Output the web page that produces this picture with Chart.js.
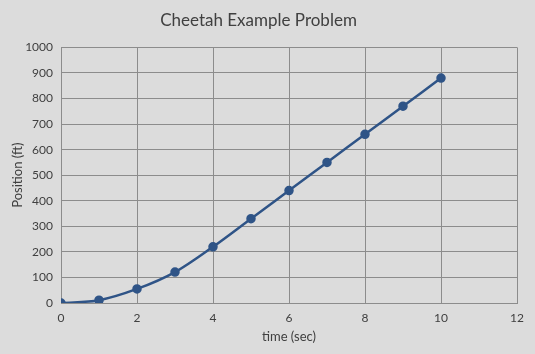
<!DOCTYPE html>
<html lang="en">
<head>
    <meta charset="utf-8" />
    <title>Cheetah Example Problem</title>
    <script src="https://cdn.jsdelivr.net/npm/chart.js"></script>
    <style>
        html, body { margin: 0; padding: 0; background: #dcdcdc; }
        #wrap { width: 535px; height: 354px; position: relative; }
    </style>
</head>
<body>
    <div id="wrap"><canvas id="chart" width="535" height="354"></canvas></div>
    <script>
        // time (sec) and position (ft)
        const times = [0, 1, 2, 3, 4, 5, 6, 7, 8, 9, 10];
        const positions = [0, 11, 55, 121, 220, 330, 440, 550, 660, 770, 880];
        const xTicks = [0, 2, 4, 6, 8, 10, 12];

        const points = times.map((t, i) => ({ x: t, y: positions[i] }));
        const font = 'Lato, "Open Sans", sans-serif';

        new Chart(document.getElementById('chart'), {
            type: 'line',
            data: {
                datasets: [{
                    label: 'Position',
                    data: points,
                    borderColor: '#2f5487',
                    backgroundColor: '#2f5487',
                    borderWidth: 2.5,
                    pointRadius: 3.5,
                    pointHoverRadius: 3.5,
                    tension: 0.4,
                    cubicInterpolationMode: 'monotone',
                    fill: false
                }]
            },
            options: {
                responsive: false,
                animation: false,
                layout: { padding: { left: 0, right: 18, top: 0, bottom: 0 } },
                plugins: {
                    legend: { display: false },
                    tooltip: { enabled: false },
                    title: {
                        display: true,
                        text: 'Cheetah Example Problem',
                        color: '#404040',
                        font: { family: font, size: 17, weight: 'normal' },
                        padding: { top: 10, bottom: 17 }
                    }
                },
                scales: {
                    x: {
                        type: 'linear',
                        min: 0,
                        max: 12,
                        afterBuildTicks: s => { s.ticks = xTicks.map(v => ({ value: v })); },
                        afterFit: s => { s.height = 51; },
                        grid: { color: '#8c8c8c', lineWidth: 1, drawTicks: false },
                        border: { color: '#8c8c8c' },
                        ticks: { color: '#404040', padding: 8, font: { family: font, size: 12 } },
                        title: {
                            display: true,
                            text: 'time (sec)',
                            color: '#404040',
                            font: { family: font, size: 13 },
                            padding: { top: 6, bottom: 9 }
                        }
                    },
                    y: {
                        min: 0,
                        max: 1000,
                        ticks: {
                            stepSize: 100,
                            color: '#404040',
                            padding: 8,
                            font: { family: font, size: 12 },
                            callback: v => String(v)
                        },
                        afterFit: s => { s.width = 61; },
                        grid: { color: '#8c8c8c', lineWidth: 1, drawTicks: false },
                        border: { color: '#8c8c8c' },
                        title: {
                            display: true,
                            text: 'Position (ft)',
                            color: '#404040',
                            font: { family: font, size: 13 },
                            padding: { top: 10, bottom: 2 }
                        }
                    }
                }
            }
        });
    </script>
</body>
</html>
